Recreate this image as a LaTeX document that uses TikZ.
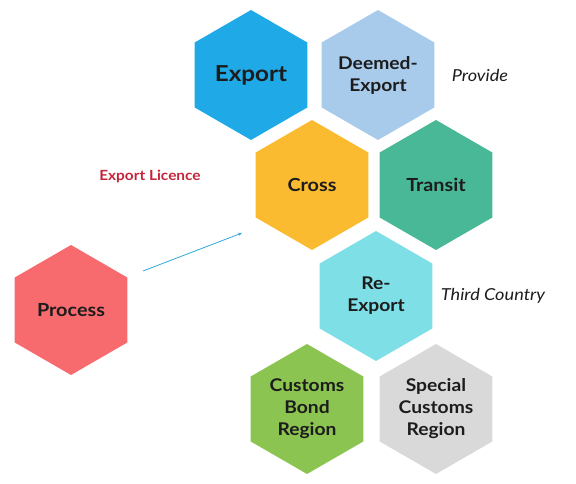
\documentclass[tikz,border=0pt]{standalone}
\usepackage{fontspec}
\setmainfont[FakeStretch=1.1]{Lato}
\usetikzlibrary{shapes.geometric,arrows.meta}
\definecolor{cExport}{HTML}{1FA9E6}
\definecolor{cDeemed}{HTML}{A8CAEB}
\definecolor{cCross}{HTML}{FBBB30}
\definecolor{cTransit}{HTML}{48B896}
\definecolor{cReexp}{HTML}{7EDFE6}
\definecolor{cBond}{HTML}{8CC451}
\definecolor{cSpecial}{HTML}{D9D9D9}
\definecolor{cProcess}{HTML}{F76B6E}
\definecolor{cLabel}{HTML}{1C1C1C}
\definecolor{cRed}{HTML}{C22539}
\definecolor{cArrow}{HTML}{2FA8DC}
\tikzset{
  hexa/.style={regular polygon, regular polygon sides=6, shape border rotate=30,
    minimum size=130pt, inner sep=0pt, draw=none, fill=#1,
    text=cLabel, align=center, font=\fontsize{17.5}{22}\selectfont\bfseries},
  note/.style={text=cLabel, font=\fontsize{16.5}{20}\selectfont\itshape},
}
\begin{document}
\begin{tikzpicture}[x=1pt,y=1pt]
\useasboundingbox (0,0) rectangle (576,484);
% image y -> 484 - y
\node[hexa=cExport, font=\fontsize{22}{26}\selectfont\bfseries] (export) at (251,409) {Export};
\node[hexa=cDeemed] (deemed) at (378,409) {Deemed-\\Export};
\node[hexa=cCross, font=\fontsize{18}{22}\selectfont\bfseries] (cross) at (312,299) {Cross};
\node[hexa=cTransit, font=\fontsize{18}{22}\selectfont\bfseries] (transit) at (436,299) {Transit};
\node[hexa=cReexp] (reexp) at (376,188) {Re-\\Export};
\node[hexa=cBond] (bond) at (307,75) {Customs\\Bond\\Region};
\node[hexa=cSpecial] (special) at (436,75) {Special\\Customs\\Region};
\node[hexa=cProcess, font=\fontsize{18}{22}\selectfont\bfseries] (process) at (71,174) {Process};
\node[note] (provide) at (480,409) {Provide};
\node[note] (third) at (493,188) {Third Country};
\node[text=cRed, font=\fontsize{14}{17}\selectfont\bfseries] (licence) at (150,308) {Export Licence};
\coordinate (arrA) at (143,213);
\coordinate (arrB) at (242,251);
\draw[cArrow, line width=0.8pt, -{Stealth[length=4pt,width=3.5pt]}] (arrA) -- (arrB);
\end{tikzpicture}
\end{document}
